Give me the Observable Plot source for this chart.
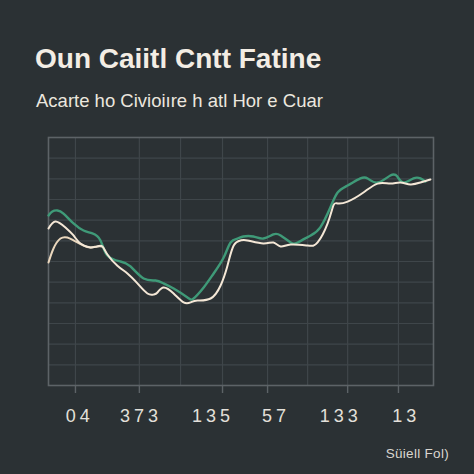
<!DOCTYPE html>
<html>
<head>
<meta charset="utf-8">
<script src="https://cdn.jsdelivr.net/npm/d3@7"></script>
<script src="https://cdn.jsdelivr.net/npm/@observablehq/plot@0.6"></script>
<style>
  html, body { margin: 0; padding: 0; background: #2b3134; }
  body { width: 474px; height: 474px; position: relative; overflow: hidden; font-family: "Liberation Sans", Arial, sans-serif; }
  #title { position: absolute; left: 35px; top: 42px; font-size: 28px; line-height: 34px; font-weight: 700; color: #f3ede4; white-space: nowrap; }
  #subtitle { position: absolute; left: 36px; top: 90px; font-size: 18.5px; line-height: 22px; font-weight: 400; color: #ebe7df; white-space: nowrap; }
  #chart { position: absolute; left: 0; top: 127px; }
  #chart svg text { letter-spacing: 4px; }
  #caption { position: absolute; right: 25px; top: 446px; font-size: 13.5px; color: #d9d6d0; white-space: nowrap; letter-spacing: 0.3px; }
</style>
</head>
<body>
<div id="title"></div>
<div id="subtitle"></div>
<div id="chart"></div>
<div id="caption"></div>
<script>
const titleText = "Oun Caiitl Cntt Fatine";
const subtitleText = "Acarte ho Civioiıre h atl Hor e Cuar";
const captionText = "Süiell Fol)";

// x tick positions, labels, and label anchor positions
const tickX = [7.0, 23.6, 45.2, 56.9, 77.7, 90.9];
const tickLabels = ["04", "373", "135", "57", "133", "13"];
const labelX = [7.6, 23.5, 42.2, 58.6, 75.4, 92.4];
const extraGridX = [34.3, 67.3];
const gridY = [10, 20, 30, 40, 50, 60, 70, 80, 90, 100, 110];

// series values (x, y)
const greenX = [0, 1.0, 2.3, 3.9, 6.5, 9.1, 11.4, 13.5, 15.3, 18.7, 21.3, 24.7, 27.8, 29.9, 32.5, 36.1, 37.7, 40.3, 42.9, 45.5, 47.3, 49.1, 50.6, 53.2, 55.8, 58.4, 60.3, 62.9, 64.7, 68.1, 70.6, 73.2, 75.1, 77.7, 81.0, 82.9, 85.5, 88.8, 90.6, 92.2, 94.8, 96.6, 97.9];
const greenY = [82.3, 84.2, 84.7, 83.2, 78.4, 75.0, 73.6, 70.2, 62.9, 60.0, 57.6, 51.8, 50.8, 49.4, 46.9, 42.6, 42.1, 47.4, 54.2, 61.9, 69.2, 71.1, 72.1, 72.1, 71.1, 73.1, 72.6, 69.2, 69.2, 72.6, 76.5, 86.1, 93.4, 96.8, 100.2, 100.2, 98.2, 101.6, 101.1, 98.2, 100.2, 100.2, 98.7];

const creamX = [0, 1.8, 4.4, 6.5, 8.3, 10.9, 12.7, 14.0, 15.3, 17.9, 20.5, 23.1, 25.7, 27.3, 28.3, 29.9, 32.5, 35.1, 36.9, 38.7, 42.1, 44.7, 46.5, 48.1, 49.9, 51.7, 55.8, 58.4, 60.3, 62.9, 67.3, 69.9, 72.5, 74.0, 75.1, 77.7, 81.8, 85.5, 88.8, 91.4, 94.0, 96.6, 99.2];
const creamY = [76.0, 79.4, 76.5, 72.6, 68.7, 66.8, 67.3, 67.3, 63.4, 58.0, 54.2, 49.4, 44.5, 44.0, 45.0, 47.4, 44.5, 40.2, 40.2, 41.1, 42.1, 48.4, 58.1, 67.7, 70.2, 70.2, 68.7, 69.2, 67.3, 68.2, 67.7, 69.2, 78.4, 87.1, 88.1, 89.0, 93.4, 97.7, 97.7, 98.2, 97.3, 98.2, 99.7];

const beigeX = [0, 1.3, 3.1, 4.9, 6.5, 9.1, 10.9, 12.7, 14.0];
const beigeY = [59.5, 66.3, 71.1, 71.6, 70.2, 67.7, 66.8, 67.3, 67.3];

const toRows = (xs, ys) => xs.map((x, i) => ({x, y: ys[i]}));
const green = toRows(greenX, greenY);
const cream = toRows(creamX, creamY);
const beige = toRows(beigeX, beigeY);
const labels = tickLabels.map((t, i) => ({x: labelX[i], t}));

document.getElementById("title").textContent = titleText;
document.getElementById("subtitle").textContent = subtitleText;
document.getElementById("caption").textContent = captionText;

const plot = Plot.plot({
  width: 474,
  height: 303,
  marginLeft: 48,
  marginRight: 41,
  marginTop: 10,
  marginBottom: 45,
  style: {background: "transparent", color: "#e0ddd8", fontFamily: "'Liberation Sans', Arial, sans-serif"},
  x: {domain: [0, 100], axis: null},
  y: {domain: [0, 120], axis: null},
  marks: [
    Plot.ruleY(gridY, {stroke: "#3f464a", strokeWidth: 1.2}),
    Plot.ruleX(tickX.concat(extraGridX), {stroke: "#3f464a", strokeWidth: 1.2}),
    Plot.frame({stroke: "#5d6367", strokeWidth: 1.6}),
    Plot.ruleX(tickX, {y1: 0, y2: 0, stroke: "#5d6367", strokeWidth: 1.4, insetBottom: -8}),
    Plot.text(labels, {x: "x", text: "t", frameAnchor: "bottom", dy: 36, dx: 2, fontSize: 18, fill: "#e3e0da"}),
    Plot.line(beige, {x: "x", y: "y", stroke: "#ead7bd", strokeWidth: 2, curve: "natural"}),
    Plot.line(green, {x: "x", y: "y", stroke: "#3f9a78", strokeWidth: 2.4, curve: "natural"}),
    Plot.line(cream, {x: "x", y: "y", stroke: "#f4e7d6", strokeWidth: 2, curve: "natural"})
  ]
});
document.getElementById("chart").appendChild(plot);
</script>
</body>
</html>
